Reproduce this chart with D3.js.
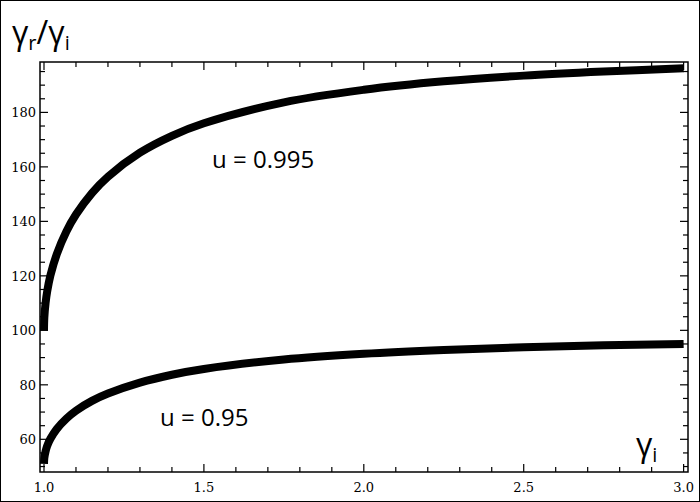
<!DOCTYPE html><html><head><meta charset="utf-8">
<script src="https://cdn.jsdelivr.net/npm/d3@7"></script>
<style>body{margin:0;background:#fff}</style></head><body>
<svg id="c" width="700" height="502"></svg>
<script>
const xTicks=[1.0,1.5,2.0,2.5,3.0];
const yTicks=[60,80,100,120,140,160,180];
const gx=[1.0,1.001,1.005,1.01,1.02,1.04,1.07,1.1,1.15,1.2,1.3,1.4,1.5,1.75,2.0,2.25,2.5,2.75,3.0];
const yHigh=[100,104.6,110.1,114.3,120.1,128.0,136.3,142.5,150.4,156.4,165.2,171.4,176.0,183.7,188.3,191.4,193.5,195.0,196.2];
const yLow=[51,53.1,55.6,57.6,60.2,63.8,67.6,70.5,74.1,76.8,80.8,83.7,85.8,89.3,91.4,92.8,93.8,94.5,95.0];
const svg=d3.select("#c");
svg.append("rect").attr("x",0.5).attr("y",0.5).attr("width",699).attr("height",501).attr("fill","none").attr("stroke","#000");
const L=40,R=688,T=62,B=472;
const x=d3.scaleLinear().domain([0.9875,3.0137]).range([L,R]);
const y=d3.scaleLinear().domain([48,198.5]).range([B,T]);
const font="DejaVu Serif";
const tk=svg.append("g").attr("stroke","#000").attr("stroke-width",1.2);
d3.range(1.0,3.001,0.1).forEach(v=>{const big=xTicks.some(t=>Math.abs(t-v)<1e-6);const l=big?8:5;
 tk.append("line").attr("x1",x(v)).attr("x2",x(v)).attr("y1",B).attr("y2",B-l);
 tk.append("line").attr("x1",x(v)).attr("x2",x(v)).attr("y1",T).attr("y2",T+l);});
d3.range(50,196,5).forEach(v=>{const big=yTicks.includes(v);const l=big?8:5;
 tk.append("line").attr("y1",y(v)).attr("y2",y(v)).attr("x1",L).attr("x2",L+l);
 tk.append("line").attr("y1",y(v)).attr("y2",y(v)).attr("x1",R).attr("x2",R-l);});
svg.append("rect").attr("x",L).attr("y",T).attr("width",R-L).attr("height",B-T).attr("fill","none").attr("stroke","#000").attr("stroke-width",1.5);
svg.selectAll(".xl").data(xTicks).enter().append("text").attr("x",d=>x(d)).attr("y",492).attr("text-anchor","middle")
 .attr("font-family",font).attr("font-size",13).text(d=>d.toFixed(1));
svg.selectAll(".yl").data(yTicks).enter().append("text").attr("x",36).attr("y",d=>y(d)+5).attr("text-anchor","end")
 .attr("font-family",font).attr("font-size",13).text(d=>d);
const line=d3.line().x(d=>x(d[0])).y(d=>y(d[1])).curve(d3.curveCatmullRom);
[yHigh,yLow].forEach(s=>svg.append("path").attr("d",line(gx.map((g,i)=>[g,s[i]]))).attr("fill","none").attr("stroke","#000").attr("stroke-width",8));
const sf="Open Sans";
svg.append("text").attr("x",212).attr("y",168).attr("font-family",sf).attr("font-size",24).text("u = 0.995");
svg.append("text").attr("x",160).attr("y",426).attr("font-family",sf).attr("font-size",24).text("u = 0.95");
const t1=svg.append("text").attr("x",12).attr("y",44).attr("font-family",sf).attr("font-size",32);
t1.append("tspan").text("γ");t1.append("tspan").attr("font-size",20).attr("dy",6).text("r");
t1.append("tspan").attr("dy",-6).text("/γ");t1.append("tspan").attr("font-size",20).attr("dy",6).text("i");
const t2=svg.append("text").attr("x",636).attr("y",456).attr("font-family",sf).attr("font-size",32);
t2.append("tspan").text("γ");t2.append("tspan").attr("font-size",20).attr("dy",6).text("i");
</script></body></html>
